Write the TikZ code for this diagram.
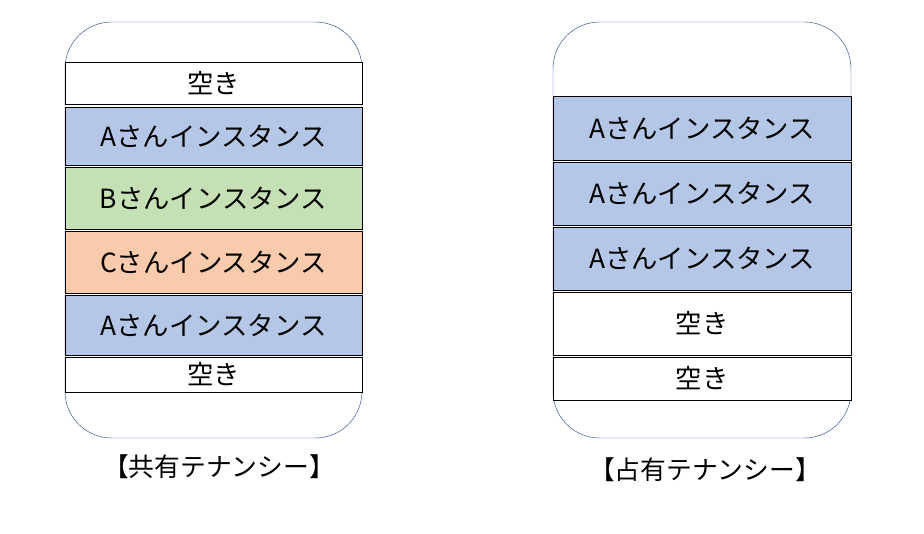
\documentclass[tikz,border=0pt]{standalone}
\usepackage{fontspec}
\setmainfont{Noto Sans CJK JP}
\definecolor{rowblue}{HTML}{B4C7E7}
\definecolor{rowgreen}{HTML}{C5E0B4}
\definecolor{roworange}{HTML}{F8CBAD}
\definecolor{edgeblue}{HTML}{2F5597}
\tikzset{
	host/.style={draw=edgeblue,rounded corners=1.4cm,thin},
	slot/.style={draw=black,thin},
	slottext/.style={font=\fontsize{22.5}{26}\selectfont},
	caption/.style={font=\fontsize{22}{26}\selectfont}
}
\begin{document}
\begin{tikzpicture}[x=0.03cm,y=-0.03cm]
\useasboundingbox (0,0) rectangle (924,534);
% shared tenancy
\draw[host] (65,22) rectangle (362,438);
\foreach \ya/\yb/\mycol/\mytext in {62/104/white/空き,107/165/rowblue/Aさんインスタンス,
	167/229/rowgreen/Bさんインスタンス,231/293/roworange/Cさんインスタンス,
	295/355/rowblue/Aさんインスタンス,357/392/white/空き} {
	\draw[slot,fill=\mycol] (65,\ya) rectangle (362,\yb);
	\node[slottext] (s\ya) at (213.5,{(\ya+\yb)/2}) {\mytext};
}
\node[caption] (shared) at (219,467) {【共有テナンシー】};
% dedicated tenancy
\draw[host] (553,22) rectangle (851,438);
\foreach \ya/\yb/\mycol/\mytext in {96/160/rowblue/Aさんインスタンス,162/225/rowblue/Aさんインスタンス,
	227/290/rowblue/Aさんインスタンス,292/355/white/空き,357/400/white/空き} {
	\draw[slot,fill=\mycol] (553,\ya) rectangle (851,\yb);
	\node[slottext] (d\ya) at (702,{(\ya+\yb)/2}) {\mytext};
}
\node[caption] (dedicated) at (705,470) {【占有テナンシー】};
\end{tikzpicture}
\end{document}
